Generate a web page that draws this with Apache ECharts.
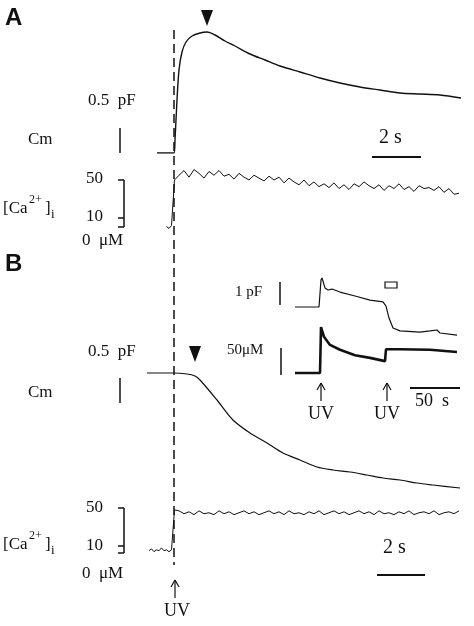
<!DOCTYPE html>
<html>
<head>
<meta charset="utf-8">
<script src="https://cdn.jsdelivr.net/npm/echarts@6/dist/echarts.min.js"></script>
<style>
  html, body { margin: 0; padding: 0; background: #fff; }
  #chart { width: 474px; height: 626px; }
</style>
</head>
<body>
<div id="chart"></div>
<script>
// Panel A, membrane capacitance (s, pF relative to baseline)
var cmTimeA = [-0.68, 0, 0.04, 0.12, 0.2, 0.32, 0.48, 0.72, 1.04, 1.32, 1.64, 2.04, 2.44, 3.04, 3.64, 4.24, 5.04, 5.84, 6.64, 7.44, 8.24, 9.04, 9.84, 10.64, 11.48];
var cmValA = [0, 0, 0.26, 1.06, 1.66, 2.02, 2.22, 2.34, 2.4, 2.42, 2.36, 2.24, 2.14, 1.98, 1.86, 1.74, 1.62, 1.5, 1.4, 1.32, 1.26, 1.2, 1.18, 1.16, 1.1];

// Panel A, [Ca2+]i (uM): before flash, then sampled every 0.2 s after
var caPreTimeA = [-0.3, -0.2, -0.1, -0.02, 0.02, 0.1];
var caPreValA = [1, -1, 2, 0, 50, 52];
var caPostA = [55, 60, 53, 61, 57, 52, 59, 55, 60, 54,
  56, 51, 57, 53, 50, 55, 52, 49, 54, 50,
  53, 47, 52, 48, 45, 50, 44, 48, 43, 46,
  42, 47, 41, 45, 40, 46, 43, 48, 44, 41,
  45, 39, 44, 41, 46, 40, 43, 38, 44, 41,
  42, 39, 43, 37, 41, 35, 36];

// Panel B, membrane capacitance
var cmTimeB = [-1.08, -0.04, 0.52, 0.84, 1.04, 1.72, 2.36, 3.04, 3.72, 4.36, 5.04, 5.72, 6.36, 7.04, 7.72, 8.36, 9.04, 9.72, 10.36, 11.44];
var cmValB = [0, 0, -0.02, -0.06, -0.14, -0.54, -0.94, -1.2, -1.4, -1.6, -1.74, -1.88, -1.94, -1.98, -2.04, -2.1, -2.14, -2.2, -2.24, -2.3];

// Panel B, [Ca2+]i
var caPreTimeB = [-1.0, -0.9, -0.8, -0.7, -0.6, -0.5, -0.4, -0.3, -0.2, -0.1, -0.02, 0.02, 0.1];
var caPreValB = [5, 7, 4, 6, 5, 8, 5, 6, 4, 6, 5, 48, 47];
var caPostB = [47, 44, 46, 43, 47, 44, 45, 43, 47, 44,
  46, 43, 45, 47, 44, 46, 43, 45, 47, 44,
  46, 43, 47, 44, 45, 43, 46, 44, 47, 43,
  45, 47, 44, 46, 43, 45, 47, 44, 46, 43,
  47, 44, 45, 43, 46, 44, 47, 43, 45, 46,
  44, 47, 43, 45, 46, 44, 47];
var sampleStep = 0.2;

// Inset, long recording with two flashes (s, pF / uM)
var insetCmTime = [0, 24, 26, 27, 30, 33, 37, 45, 60, 75, 88, 91, 94, 98, 105, 125, 135, 142, 145, 162];
var insetCmVal = [0, 0, 1.17, 1.26, 0.83, 0.74, 0.78, 0.65, 0.48, 0.3, 0.22, 0.04, -0.48, -0.91, -1.04, -1.09, -1.04, -1.0, -1.13, -1.22];
var insetCaTime = [0, 25, 26, 29, 35, 45, 60, 75, 90, 91, 105, 135, 162];
var insetCaVal = [0, 0, 85, 67, 52, 43, 33, 28, 22, 44, 44, 43, 39];

function pairs(t, v) { return t.map(function (x, i) { return [x, v[i]]; }); }
function sampled(pre, preV, post) {
  var d = pairs(pre, preV);
  post.forEach(function (v, i) { d.push([+(sampleStep * (i + 1)).toFixed(2), v]); });
  return d;
}

var serif = '"Liberation Serif", "Times New Roman", serif';
var grids = [
  { left: 157, width: 304, top: 3, height: 150 },     // A Cm
  { left: 157, width: 304, top: 161, height: 76 },    // A Ca
  { left: 147, width: 314, top: 348, height: 150 },   // B Cm
  { left: 147, width: 314, top: 489, height: 76 },    // B Ca
  { left: 295, width: 165, top: 272.5, height: 80.5 },// inset Cm
  { left: 295, width: 165, top: 319, height: 59.4 }   // inset Ca
];
var xr = [[-0.68, 11.48], [-0.68, 11.48], [-1.08, 11.48], [-1.08, 11.48], [0, 165], [0, 165]];
var yr = [[0, 3], [-10, 70], [-2.5, 0.5], [-10, 70], [-2, 1.5], [-10, 100]];

var xAxis = xr.map(function (r, i) {
  return { type: 'value', gridIndex: i, min: r[0], max: r[1], show: false };
});
var yAxis = yr.map(function (r, i) {
  return { type: 'value', gridIndex: i, min: r[0], max: r[1], show: false };
});

function trace(i, data, w, smooth) {
  return { type: 'line', xAxisIndex: i, yAxisIndex: i, data: data, showSymbol: false,
    smooth: smooth || false, lineStyle: { color: '#111', width: w || 1.2 } };
}

function txt(x, y, s, size, extra) {
  return Object.assign({ type: 'text', x: x, y: y,
    style: { text: s, font: (size || 17) + 'px ' + serif, fill: '#111' } }, extra || {});
}
function ln(x1, y1, x2, y2, w, dash) {
  return { type: 'line', shape: { x1: x1, y1: y1, x2: x2, y2: y2 },
    style: { stroke: '#111', lineWidth: w || 1.5, lineDash: dash || null } };
}
function uvArrow(x, y) {
  return [ln(x, y, x, y + 18, 1.2), ln(x - 4, y + 7, x, y, 1.2), ln(x + 4, y + 7, x, y, 1.2)];
}
function tri(x, y) {
  return { type: 'polygon', shape: { points: [[x - 6, y], [x + 6, y], [x, y + 16]] }, style: { fill: '#111' } };
}
function bracket(x, y1, y2, y3) {
  return [ln(x, y1, x, y3, 1.5), ln(x - 6, y1, x, y1, 1.5), ln(x - 6, y2, x, y2, 1.5), ln(x - 6, y3, x, y3, 1.5)];
}
function caLabel(y) {
  return [txt(3, y, '[Ca'), txt(29, y - 6, '2+', 12), txt(45, y, ']'), txt(51, y + 8, 'i', 13)];
}

var graphic = [
  txt(5, 6, 'A', 24, { style: { text: 'A', font: 'bold 24px Arial, sans-serif', fill: '#111' } }),
  txt(5, 252, 'B', 24, { style: { text: 'B', font: 'bold 24px Arial, sans-serif', fill: '#111' } }),
  tri(207, 10), tri(195, 346),
  ln(174, 30, 174, 565, 1.5, [9, 5]),
  // panel A labels
  txt(88, 92, '0.5  pF'), txt(28, 131, 'Cm'), ln(120, 128, 120, 153),
  txt(86, 170, '50'), txt(86, 208, '10'), txt(82, 232, '0  μM'),
  ln(372, 157, 421, 157, 2), txt(379, 128, '2 s', 20),
  // panel B labels
  txt(88, 343, '0.5  pF'), txt(28, 384, 'Cm'), ln(120, 378, 120, 403),
  txt(86, 499, '50'), txt(86, 537, '10'), txt(82, 565, '0  μM'),
  ln(377, 575, 425, 575, 2), txt(383, 538, '2 s', 20),
  txt(164, 602, 'UV', 18),
  // inset labels
  txt(235, 285, '1 pF', 15), ln(280, 282, 280, 305, 1.5),
  txt(227, 343, '50μM', 15), ln(281, 348, 281, 375, 1.5),
  { type: 'rect', shape: { x: 385, y: 282, width: 12, height: 6 }, style: { fill: 'none', stroke: '#111', lineWidth: 1.2 } },
  ln(410, 388, 460, 388, 1.8), txt(415, 392, '50  s', 18),
  txt(308, 405, 'UV', 18), txt(374, 405, 'UV', 18)
].concat(caLabel(200), caLabel(536),
  bracket(124, 180, 218, 227), bracket(124, 508, 546, 553),
  uvArrow(175, 580), uvArrow(321, 383), uvArrow(387, 383));

var chart = echarts.init(document.getElementById('chart'));
chart.setOption({
  animation: false,
  backgroundColor: '#fff',
  grid: grids,
  xAxis: xAxis,
  yAxis: yAxis,
  series: [
    trace(0, pairs(cmTimeA, cmValA), 1.4, 0.3),
    trace(1, sampled(caPreTimeA, caPreValA, caPostA), 1),
    trace(2, pairs(cmTimeB, cmValB), 1.2, 0.3),
    trace(3, sampled(caPreTimeB, caPreValB, caPostB), 1),
    trace(4, pairs(insetCmTime, insetCmVal), 1.2),
    trace(5, pairs(insetCaTime, insetCaVal), 2.6)
  ],
  graphic: graphic
});
</script>
</body>
</html>
